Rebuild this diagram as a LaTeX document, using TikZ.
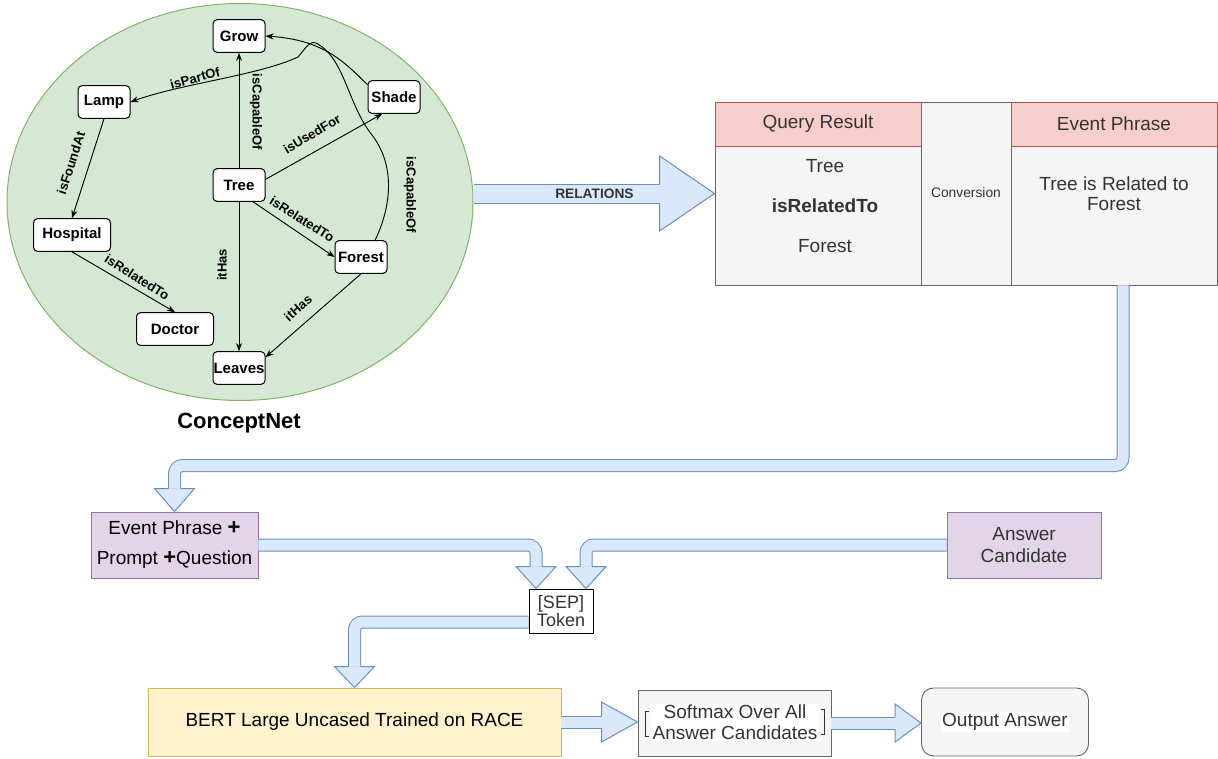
\documentclass[tikz,border=0pt]{standalone}
\usepackage{fontspec}
\setmainfont{Liberation Sans}
\usetikzlibrary{shapes.geometric,arrows.meta,calc}

\definecolor{cngreen}{RGB}{213,232,212}
\definecolor{cngreenline}{RGB}{130,179,102}
\definecolor{hdrpink}{RGB}{248,206,204}
\definecolor{hdrpinkline}{RGB}{184,84,80}
\definecolor{boxgray}{RGB}{245,245,245}
\definecolor{boxgrayline}{RGB}{102,102,102}
\definecolor{txtgray}{RGB}{51,51,51}
\definecolor{boxpurple}{RGB}{225,213,231}
\definecolor{boxpurpleline}{RGB}{150,115,166}
\definecolor{boxyellow}{RGB}{255,242,204}
\definecolor{boxyellowline}{RGB}{214,182,86}
\definecolor{arrowblue}{RGB}{218,232,252}
\definecolor{arrowblueline}{RGB}{108,142,191}

\tikzset{
  concept/.style={draw=black, fill=white, rounded corners=3pt, line width=0.75pt, inner sep=0pt,
    minimum width=39pt, minimum height=24.5pt, font=\fontsize{11.25}{13}\selectfont\bfseries},
  rel/.style={-{Stealth[length=6pt,width=4.5pt]}, line width=0.7pt},
  rellabel/.style={font=\fontsize{9.8}{11}\selectfont\bfseries, inner sep=1pt},
  header/.style={draw=hdrpinkline, fill=hdrpink, line width=0.7pt, inner sep=0pt,
    minimum width=154.5pt, minimum height=33pt, text=txtgray, font=\fontsize{14.25}{16}\selectfont},
  cell/.style={draw=boxgrayline, fill=boxgray, line width=0.7pt, inner sep=0pt},
  celltext/.style={text=txtgray, align=center, inner sep=1pt},
  block/.style={line width=0.7pt, inner sep=0pt, align=center, font=\fontsize{14.25}{16.5}\selectfont},
  shaft/.style={draw=arrowblueline, double=arrowblue, line width=0.75pt, double distance=8.25pt, rounded corners=6pt},
  pics/blockhead/.style n args={3}{code={
    \path[draw=arrowblueline, fill=arrowblue, line width=0.75pt]
      (-#1,-#3) -- (-#1,-#2) -- (0,0) -- (-#1,#2) -- (-#1,#3);
  }},
}

\begin{document}
\begin{tikzpicture}[x=0.75pt,y=0.75pt,yscale=-1,xscale=1]
\useasboundingbox (0,0) rectangle (1218,758);

%Shape: Ellipse
\node [ellipse, draw=cngreenline, fill=cngreen, line width=0.75pt, inner sep=0pt,
  minimum width=349.5pt, minimum height=297.75pt] (cnet) at (240,202) {};
% Text Node
\node [font=\fontsize{16.5}{19}\selectfont\bfseries] (cnetname) at (239,423) {ConceptNet};

%Shape: concept boxes
\node [concept] (cgrow) at (239,36) {Grow};
\node [concept] (clamp) at (104,102) {Lamp};
\node [concept] (cshade) at (394,97) {Shade};
\node [concept] (ctree) at (239,185) {Tree};
\node [concept, minimum width=57.75pt] (chosp) at (72,235) {Hospital};
\node [concept] (cforest) at (361,257) {Forest};
\node [concept, minimum width=57.75pt] (cdoctor) at (175,329) {Doctor};
\node [concept] (cleaves) at (239,368) {Leaves};

%Straight Lines
\draw [rel] (ctree) -- (cgrow);
\draw [rel] (ctree) -- (cleaves);
\draw [rel] (ctree.12) -- (cshade.-125);
\draw [rel] (ctree.-50) -- (cforest.west);
\draw [rel] (cforest.south) -- (cleaves.22);
\draw [rel] (clamp.south) -- (chosp.north);
\draw [rel] (chosp.south) -- (cdoctor.north);
%Curve Lines
\draw [rel] (cshade.155) .. controls (345,63) and (325,40) .. (cgrow.east);
\draw [rel] (cforest.50) .. controls (392,205) and (395,165) .. (372,135)
  .. controls (348,105) and (345,60) .. (318,44)
  .. controls (310,39) and (306,48) .. (298,57)
  .. controls (260,75) and (180,84) .. (clamp.east);

% Text Node
\node [rellabel, rotate=-90] (lcap1) at (256,112) {isCapableOf};
\node [rellabel, rotate=90] (lhas1) at (222,265) {itHas};
\node [rellabel, rotate=15] (lpart) at (195,78) {isPartOf};
\node [rellabel, rotate=-90] (lcap2) at (410,195) {isCapableOf};
\node [rellabel, rotate=31] (lused) at (312,134) {isUsedFor};
\node [rellabel, rotate=-32] (lrel1) at (302,219) {isRelatedTo};
\node [rellabel, rotate=-32] (lrel2) at (137,277) {isRelatedTo};
\node [rellabel, rotate=41] (lhas2) at (298,308) {itHas};
\node [rellabel, rotate=72] (lfound) at (71,163) {isFoundAt};

%Shape: table
\node [cell, minimum width=154.5pt, minimum height=104.25pt] (qrb) at (818,215.5) {};
\node [cell, minimum width=67.5pt, minimum height=137.25pt] (conv) at (966,193.5) {};
\node [cell, minimum width=154.5pt, minimum height=104.25pt] (epb) at (1114,215.5) {};
\node [header] (qrh) at (818,124) {Query Result};
\node [header] (eph) at (1114,124) {Event Phrase};
% Text Node
\node [celltext, font=\fontsize{14.25}{30}\selectfont] (qrt) at (825,206) {Tree\\\textbf{isRelatedTo}\\Forest};
\node [celltext, font=\fontsize{10.35}{12}\selectfont] (convt) at (966,193) {Conversion};
\node [celltext, font=\fontsize{14.25}{15}\selectfont] (ept) at (1114,194) {Tree is Related to\\Forest};

%Shape: lower blocks
\node [block, draw=boxpurpleline, fill=boxpurple, minimum width=125.25pt, minimum height=49.5pt,
  font=\fontsize{14.25}{22.5}\selectfont] (epq) at (174.5,545)
  {Event Phrase {\fontsize{16.5}{16}\selectfont\bfseries +}\\Prompt {\fontsize{16.5}{16}\selectfont\bfseries +}Question};
\node [block, draw=boxpurpleline, fill=boxpurple, minimum width=115.5pt, minimum height=49.5pt,
  text=txtgray] (ans) at (1024,545) {Answer\\Candidate};
\node [block, draw=black, fill=white, minimum width=48pt, minimum height=33pt,
  text=txtgray, font=\fontsize{13.5}{13}\selectfont] (sep) at (561,611) {[SEP]\\Token};
\node [block, draw=boxyellowline, fill=boxyellow, minimum width=309.75pt, minimum height=51pt]
  (bert) at (354.5,722) {BERT Large Uncased Trained on RACE};
\node [block, draw=boxgrayline, fill=boxgray, minimum width=144.75pt, minimum height=49.5pt] (smx) at (734.5,723) {};
\node [block, draw=boxgrayline, fill=boxgray, rounded corners=9pt, minimum width=125.25pt,
  minimum height=51pt] (out) at (1005,722) {};
% Text Node
\node [block, fill=white, inner sep=1pt, text=txtgray, font=\fontsize{14.25}{15.75}\selectfont] (smt) at (735,722.5)
  {Softmax Over All\\Answer Candidates};
\draw [txtgray, line width=0.5pt] (649,711) -- (645.5,711) -- (645.5,736) -- (649,736);
\draw [txtgray, line width=0.5pt] (821,709) -- (824.5,709) -- (824.5,734) -- (821,734);
\node [block, fill=white, inner sep=1pt, text=txtgray] (outt) at (1005,722) {Output Answer};

%Block arrows
\draw [shaft, double distance=13.5pt] (cnet.east |- conv) -- node [pos=0.65, text=txtgray,
  font=\fontsize{10.3}{12}\selectfont\bfseries] (rel) {RELATIONS} ($(qrb.west |- conv)+(-55,0)$);
\pic at (qrb.west |- conv) {blockhead={55}{37.5}{9.5}};

\draw [shaft] ($(epb.south)+(9,0)$) |- ($(epq.north)+(0,-46)$) -- ($(epq.north)+(0,-23)$);
\pic [rotate=-90] at (epq.north) {blockhead={23}{20}{6}};

\draw [shaft] (epq.east) -| ($(sep.north)+(-25,-22)$);
\pic [rotate=-90] at ($(sep.north)+(-25,0)$) {blockhead={22}{20}{6}};

\draw [shaft] (ans.west) -| ($(sep.north)+(25,-22)$);
\pic [rotate=-90] at ($(sep.north)+(25,0)$) {blockhead={22}{20}{6}};

\draw [shaft] ($(sep.west)+(0,11)$) -| ($(bert.north)+(0,-21)$);
\pic [rotate=-90] at (bert.north) {blockhead={21}{20}{6}};

\draw [shaft] (bert.east) -- ($(bert.east -| smx.west)+(-36,0)$);
\pic at (bert.east -| smx.west) {blockhead={36}{20}{6}};

\draw [shaft] (smx.east) -- ($(smx.east -| out.west)+(-26,0)$);
\pic at (smx.east -| out.west) {blockhead={26}{19}{6}};

\end{tikzpicture}
\end{document}
